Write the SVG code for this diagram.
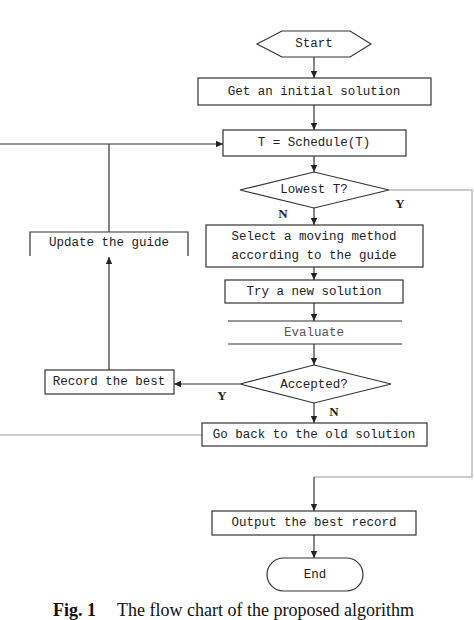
<svg xmlns="http://www.w3.org/2000/svg" width="474" height="620" viewBox="0 0 474 620">
<style>
.box{fill:#fff;stroke:#333;stroke-width:1.2}
.ln{fill:none;stroke:#333;stroke-width:1.2}
.gl{fill:none;stroke:#bbb;stroke-width:1.5}
.t{font-family:"Liberation Mono",monospace;font-size:12.5px;fill:#222;text-anchor:middle;dominant-baseline:central}
.lbl{font-family:"Liberation Serif",serif;font-size:13px;fill:#222;font-weight:bold;text-anchor:middle;dominant-baseline:central}
</style>
<defs>
<marker id="ar" markerWidth="8" markerHeight="8" refX="7" refY="4" orient="auto" markerUnits="userSpaceOnUse">
<path d="M0,0.8 L7,4 L0,7.2 Z" fill="#222"/>
</marker>
</defs>
<rect width="474" height="620" fill="#fff"/>
<g id="connectors">
<line class="ln" x1="314" y1="57" x2="314" y2="78" marker-end="url(#ar)"/>
<line class="ln" x1="314" y1="105" x2="314" y2="130" marker-end="url(#ar)"/>
<line class="ln" x1="0" y1="144" x2="223" y2="144" marker-end="url(#ar)"/>
<line class="ln" x1="109" y1="144" x2="109" y2="232"/>
<line class="ln" x1="314" y1="156" x2="314" y2="172" marker-end="url(#ar)"/>
<line class="ln" x1="314" y1="208" x2="314" y2="225" marker-end="url(#ar)"/>
<line class="ln" x1="314" y1="267" x2="314" y2="280" marker-end="url(#ar)"/>
<line class="ln" x1="314" y1="303" x2="314" y2="321" marker-end="url(#ar)"/>
<line class="ln" x1="314" y1="344" x2="314" y2="365" marker-end="url(#ar)"/>
<line class="ln" x1="240" y1="384" x2="174" y2="384" marker-end="url(#ar)"/>
<line class="ln" x1="109" y1="370" x2="109" y2="257" marker-end="url(#ar)"/>
<line class="ln" x1="314" y1="403" x2="314" y2="423" marker-end="url(#ar)"/>
<line class="gl" x1="0" y1="435" x2="202" y2="435"/>
<polyline class="gl" points="389,190 472,190 472,477 314,477"/>
<line class="ln" x1="314" y1="477" x2="314" y2="511" marker-end="url(#ar)"/>
<line class="ln" x1="314" y1="535" x2="314" y2="558" marker-end="url(#ar)"/>
<text class="lbl" x="400" y="203">Y</text>
<text class="lbl" x="283" y="213">N</text>
<text class="lbl" x="222" y="395">Y</text>
<text class="lbl" x="334" y="411">N</text>
</g>
<g id="start">
<polygon class="box" points="257,44 282,31 350,31 371,44 350,57 282,57"/>
<text class="t" x="314" y="44">Start</text>
</g>
<g id="init">
<rect class="box" x="198" y="78" width="233" height="27"/>
<text class="t" x="314" y="91.5">Get an initial solution</text>
</g>
<g id="schedule">
<rect class="box" x="223" y="130" width="183" height="26"/>
<text class="t" x="314" y="143">T = Schedule(T)</text>
</g>
<g id="lowest">
<polygon class="box" points="240,190 314,172 389,190 314,208"/>
<text class="t" x="314" y="190">Lowest T?</text>
</g>
<g id="select">
<rect class="box" x="206" y="225" width="217" height="42"/>
<text class="t" x="314" y="237">Select a moving method</text>
<text class="t" x="314" y="256">according to the guide</text>
</g>
<g id="update">
<polyline class="ln" points="30,256 30,232 188,232 188,256"/>
<text class="t" x="109" y="243">Update the guide</text>
</g>
<g id="try">
<rect class="box" x="225" y="280" width="178" height="23"/>
<text class="t" x="314" y="291.5">Try a new solution</text>
</g>
<g id="evaluate">
<line class="ln" x1="228" y1="321" x2="402" y2="321"/>
<line class="ln" x1="228" y1="344" x2="402" y2="344"/>
<text class="t" x="314" y="332.5" style="fill:#555">Evaluate</text>
</g>
<g id="accepted">
<polygon class="box" points="240,384 314,365 391,384 314,403"/>
<text class="t" x="314" y="385">Accepted?</text>
</g>
<g id="record">
<rect class="box" x="45" y="370" width="129" height="24"/>
<text class="t" x="109" y="382">Record the best</text>
</g>
<g id="goback">
<rect class="box" x="202" y="423" width="225" height="23"/>
<text class="t" x="314" y="434.5">Go back to the old solution</text>
</g>
<g id="output">
<rect class="box" x="212" y="511" width="204" height="24"/>
<text class="t" x="314" y="523">Output the best record</text>
</g>
<g id="end">
<rect class="box" x="267" y="558" width="96" height="33" rx="16.5" ry="16.5"/>
<text class="t" x="315" y="574.5">End</text>
</g>
<text x="53" y="616" font-family="Liberation Serif,serif" font-size="18" fill="#111"><tspan font-weight="bold">Fig. 1</tspan><tspan x="117">The flow chart of the proposed algorithm</tspan></text>
</svg>
